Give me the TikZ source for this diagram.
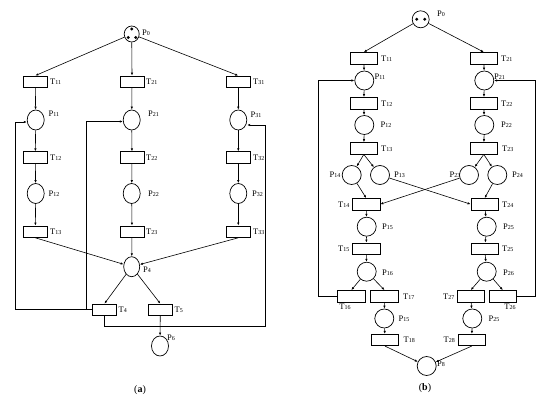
\documentclass[tikz,border=0pt]{standalone}
\usepackage{fontspec}
\setmainfont{Liberation Serif}
\usetikzlibrary{shapes.geometric,arrows.meta}
\newcommand\lb[2]{#1\raisebox{-0.4pt}{\fontsize{6}{6}\selectfont #2}}
\begin{document}
\begin{tikzpicture}[x=1pt,y=-1pt,
  every node/.style={font=\fontsize{8.5}{9}\selectfont},
  plc/.style={draw,ellipse,inner sep=0pt,minimum width=17pt,minimum height=20pt,line width=0.7pt},
  cplc/.style={draw,circle,inner sep=0pt,minimum size=19pt,line width=0.7pt},
  trl/.style={draw,rectangle,inner sep=0pt,minimum width=24pt,minimum height=11.5pt,line width=0.7pt},
  trr/.style={draw,rectangle,inner sep=0pt,minimum width=27.5pt,minimum height=11.5pt,line width=0.7pt},
  arc/.style={line width=0.6pt,-{Latex[length=3pt,width=2.4pt]}},
  tok/.style={fill,circle,inner sep=0pt,minimum size=3.2pt},
  lab/.style={inner sep=0pt}]
\useasboundingbox (0,0) rectangle (550,404);
% ---------------- (a) ----------------
\node[plc,minimum width=15pt,minimum height=16pt] (aP0) at (131.7,34) {};
\node[tok] (aK1) at (131.7,29) {};
\node[tok] (aK2) at (128.2,37.5) {};
\node[tok] (aK3) at (135.8,37.5) {};
\node[trl] (aT11) at (35.3,81.7) {};
\node[trl] (aT21) at (132,81.7) {};
\node[trl] (aT31) at (238.3,81.7) {};
\node[plc] (aP11) at (35.7,120) {};
\node[plc] (aP21) at (131.7,120) {};
\node[plc] (aP31) at (238.3,120) {};
\node[trl] (aT12) at (35.3,157.5) {};
\node[trl] (aT22) at (132,157.5) {};
\node[trl] (aT32) at (238.3,157.5) {};
\node[plc] (aP12) at (35.7,193.5) {};
\node[plc] (aP22) at (131.7,193.5) {};
\node[plc] (aP32) at (238.3,193.5) {};
\node[trl] (aT13) at (35.3,231.7) {};
\node[trl] (aT23) at (132,231.7) {};
\node[trl] (aT33) at (238.3,231.7) {};
\node[plc,minimum width=16pt] (aP4) at (131.7,266.7) {};
\node[trl] (aT4) at (104.5,309.7) {};
\node[trl] (aT5) at (160.3,309.7) {};
\node[plc] (aP6) at (160,346) {};
\coordinate (aL) at (15,309.7);
\coordinate (aM) at (86,309.7);
\coordinate (aR) at (265.7,326);
% labels (a)
\node[lab,anchor=west] (laP0) at (142,33) {\lb{P}{0}};
\node[lab,anchor=west] (laT11) at (50,82) {\lb{T}{11}};
\node[lab,anchor=west] (laT21) at (146,82) {\lb{T}{21}};
\node[lab,anchor=west] (laT31) at (253,82) {\lb{T}{31}};
\node[lab,anchor=west] (laP11) at (48.5,113.5) {\lb{P}{11}};
\node[lab,anchor=west] (laP21) at (148,113.5) {\lb{P}{21}};
\node[lab,anchor=west] (laP31) at (250.5,115) {\lb{P}{31}};
\node[lab,anchor=west] (laT12) at (50,157.5) {\lb{T}{12}};
\node[lab,anchor=west] (laT22) at (146,157.5) {\lb{T}{22}};
\node[lab,anchor=west] (laT32) at (253,157.5) {\lb{T}{32}};
\node[lab,anchor=west] (laP12) at (48.5,194) {\lb{P}{12}};
\node[lab,anchor=west] (laP22) at (148,194) {\lb{P}{22}};
\node[lab,anchor=west] (laP32) at (252,194) {\lb{P}{32}};
\node[lab,anchor=west] (laT13) at (50,231.7) {\lb{T}{13}};
\node[lab,anchor=west] (laT23) at (146,231.7) {\lb{T}{23}};
\node[lab,anchor=west] (laT33) at (253,231.7) {\lb{T}{33}};
\node[lab,anchor=west] (laP4) at (143,270) {\lb{P}{4}};
\node[lab,anchor=west] (laT4) at (118.5,309.5) {\lb{T}{4}};
\node[lab,anchor=west] (laT5) at (174.5,309.5) {\lb{T}{5}};
\node[lab,anchor=west] (laP6) at (167,338) {\lb{P}{6}};
\node[lab,font=\fontsize{10}{11}\selectfont] (capa) at (140,390) {(\textbf{a})};
% arcs (a)
\draw[arc] (aP0) -- (aT11.north);
\draw[arc] (aP0) -- (aT21.north);
\draw[arc] (aP0) -- (aT31.north);
\draw[arc] (aT11) -- (aP11);
\draw[arc] (aT21) -- (aP21);
\draw[arc] (aT31) -- (aP31);
\draw[arc] (aP11) -- (aT12);
\draw[arc] (aP21) -- (aT22);
\draw[arc] (aP31) -- (aT32);
\draw[arc] (aT12) -- (aP12);
\draw[arc] (aT22) -- (aP22);
\draw[arc] (aT32) -- (aP32);
\draw[arc] (aP12) -- (aT13);
\draw[arc] (aP22) -- (aT23);
\draw[arc] (aP32) -- (aT33);
\draw[arc] (aT13.south) -- (aP4);
\draw[arc] (aT23) -- (aP4);
\draw[arc] (aT33.south) -- (aP4);
\draw[arc] (aP4) -- (aT4.north);
\draw[arc] (aP4) -- (aT5.north);
\draw[arc] (aT5) -- (aP6);
\draw[arc] (aT4.west) -- (aL) |- ([yshift=-2pt]aP11.west);
\draw[arc] (aM) |- ([yshift=-1.5pt]aP21.west);
\draw[arc] (aT4.south) |- (aR) |- ([yshift=-5pt]aP31.east);
% ---------------- (b) ----------------
\node[cplc,minimum size=17pt] (bP0) at (420.7,19.3) {};
\node[tok] (bK1) at (416.7,19.3) {};
\node[tok] (bK2) at (424.7,19.3) {};
\node[trr] (bT11) at (363.8,58.2) {};
\node[trr] (bT21) at (483.8,58.2) {};
\node[cplc] (bP11) at (364.3,80.5) {};
\node[cplc] (bP21) at (484.3,80.5) {};
\node[trr] (bT12) at (363.8,103.2) {};
\node[trr] (bT22) at (483.8,103.2) {};
\node[cplc] (bP12) at (364.3,125) {};
\node[cplc] (bP22) at (484.3,125) {};
\node[trr] (bT13) at (363.8,148.3) {};
\node[trr] (bT23) at (483.8,148.3) {};
\node[cplc] (bP14) at (351.7,175) {};
\node[cplc] (bP13) at (380,175) {};
\node[cplc] (bP23) at (469,175) {};
\node[cplc] (bP24) at (497.3,175) {};
\node[trr] (bT14) at (366.2,204.2) {};
\node[trr] (bT24) at (484.7,204.2) {};
\node[cplc] (bP15) at (366.7,226.7) {};
\node[cplc] (bP25) at (486.7,226.7) {};
\node[trr] (bT15) at (366.2,248.7) {};
\node[trr] (bT25) at (484.7,248.7) {};
\node[cplc] (bP16) at (366.7,271.7) {};
\node[cplc] (bP26) at (486.7,271.7) {};
\node[trr] (bT16) at (351.3,296.2) {};
\node[trr] (bT17) at (384.5,296.2) {};
\node[trr] (bT27) at (470.8,296.2) {};
\node[trr] (bT26) at (502.8,296.2) {};
\node[cplc] (bP17) at (384.3,318.5) {};
\node[cplc] (bP27) at (472.3,318.5) {};
\node[trr] (bT18) at (385,340) {};
\node[trr] (bT28) at (471.7,340) {};
\node[cplc] (bP8) at (426.7,366) {};
\coordinate (bL) at (318.3,296.2);
\coordinate (bR) at (535,296.2);
% labels (b)
\node[lab,anchor=west] (lbP0) at (437,14) {\lb{P}{0}};
\node[lab,anchor=west] (lbT11) at (381,59) {\lb{T}{11}};
\node[lab,anchor=west] (lbT21) at (501,59) {\lb{T}{21}};
\node[lab,anchor=west] (lbP11) at (374.5,77) {\lb{P}{11}};
\node[lab,anchor=west] (lbP21) at (494,76.5) {\lb{P}{21}};
\node[lab,anchor=west] (lbT12) at (381,104) {\lb{T}{12}};
\node[lab,anchor=west] (lbT22) at (501,104) {\lb{T}{22}};
\node[lab,anchor=west] (lbP12) at (380.5,125) {\lb{P}{12}};
\node[lab,anchor=west] (lbP22) at (501,125) {\lb{P}{22}};
\node[lab,anchor=west] (lbT13) at (381,148.5) {\lb{T}{13}};
\node[lab,anchor=west] (lbT23) at (502,148.5) {\lb{T}{23}};
\node[lab,anchor=east] (lbP14) at (340.5,175) {\lb{P}{14}};
\node[lab,anchor=west] (lbP13) at (394,175) {\lb{P}{13}};
\node[lab,anchor=east] (lbP23) at (460.5,175) {\lb{P}{23}};
\node[lab,anchor=west] (lbP24) at (512,175) {\lb{P}{24}};
\node[lab,anchor=east] (lbT14) at (349.5,204.5) {\lb{T}{14}};
\node[lab,anchor=west] (lbT24) at (502,204.5) {\lb{T}{24}};
\node[lab,anchor=west] (lbP15) at (382,227) {\lb{P}{15}};
\node[lab,anchor=west] (lbP25) at (503,227) {\lb{P}{25}};
\node[lab,anchor=east] (lbT15) at (349.5,249) {\lb{T}{15}};
\node[lab,anchor=west] (lbT25) at (502,249) {\lb{T}{25}};
\node[lab,anchor=west] (lbP16) at (382,272.5) {\lb{P}{16}};
\node[lab,anchor=west] (lbP26) at (503,272.5) {\lb{P}{26}};
\node[lab] (lbT16) at (345,306.5) {\lb{T}{16}};
\node[lab,anchor=west] (lbT17) at (403,296.5) {\lb{T}{17}};
\node[lab,anchor=east] (lbT27) at (454.5,296.5) {\lb{T}{27}};
\node[lab] (lbT26) at (510,306.5) {\lb{T}{26}};
\node[lab,anchor=west] (lbP17) at (398.5,318.5) {\lb{P}{15}};
\node[lab,anchor=west] (lbP27) at (488.5,318.5) {\lb{P}{25}};
\node[lab,anchor=west] (lbT18) at (403.5,340) {\lb{T}{18}};
\node[lab,anchor=east] (lbT28) at (455,340) {\lb{T}{28}};
\node[lab,anchor=west] (lbP8) at (437,363.5) {\lb{P}{8}};
\node[lab,font=\fontsize{10}{11}\selectfont] (capb) at (425,388) {(\textbf{b})};
% arcs (b)
\draw[arc] (bP0) -- (bT11.north);
\draw[arc] (bP0) -- (bT21.north);
\draw[arc] (bT11) -- (bP11);
\draw[arc] (bT21) -- (bP21);
\draw[arc] (bP11) -- (bT12);
\draw[arc] (bP21) -- (bT22);
\draw[arc] (bT12) -- (bP12);
\draw[arc] (bT22) -- (bP22);
\draw[arc] (bP12) -- (bT13);
\draw[arc] (bP22) -- (bT23);
\draw[arc] (bT13.south) -- (bP14);
\draw[arc] (bT13.south) -- (bP13);
\draw[arc] (bT23.south) -- (bP23);
\draw[arc] (bT23.south) -- (bP24);
\draw[arc] (bP14) -- (bT14.north);
\draw[arc] (bP23) -- (bT14.east);
\draw[arc] (bP13) -- (bT24.west);
\draw[arc] (bP24) -- (bT24.north);
\draw[arc] (bT14) -- (bP15);
\draw[arc] (bT24) -- (bP25);
\draw[arc] (bP15) -- (bT15);
\draw[arc] (bP25) -- (bT25);
\draw[arc] (bT15) -- (bP16);
\draw[arc] (bT25) -- (bP26);
\draw[arc] (bP16) -- (bT16.north);
\draw[arc] (bP16) -- (bT17.north);
\draw[arc] (bP26) -- (bT27.north);
\draw[arc] (bP26) -- (bT26.north);
\draw[arc] (bT17) -- (bP17);
\draw[arc] (bT27) -- (bP27);
\draw[arc] (bP17) -- (bT18);
\draw[arc] (bP27) -- (bT28);
\draw[arc] (bT18.south) -- (bP8);
\draw[arc] (bT28.south) -- (bP8);
\draw[arc] (bT16.west) -- (bL) |- (bP11.west);
\draw[arc] (bT26.east) -- (bR) |- (bP21.east);
\end{tikzpicture}
\end{document}
